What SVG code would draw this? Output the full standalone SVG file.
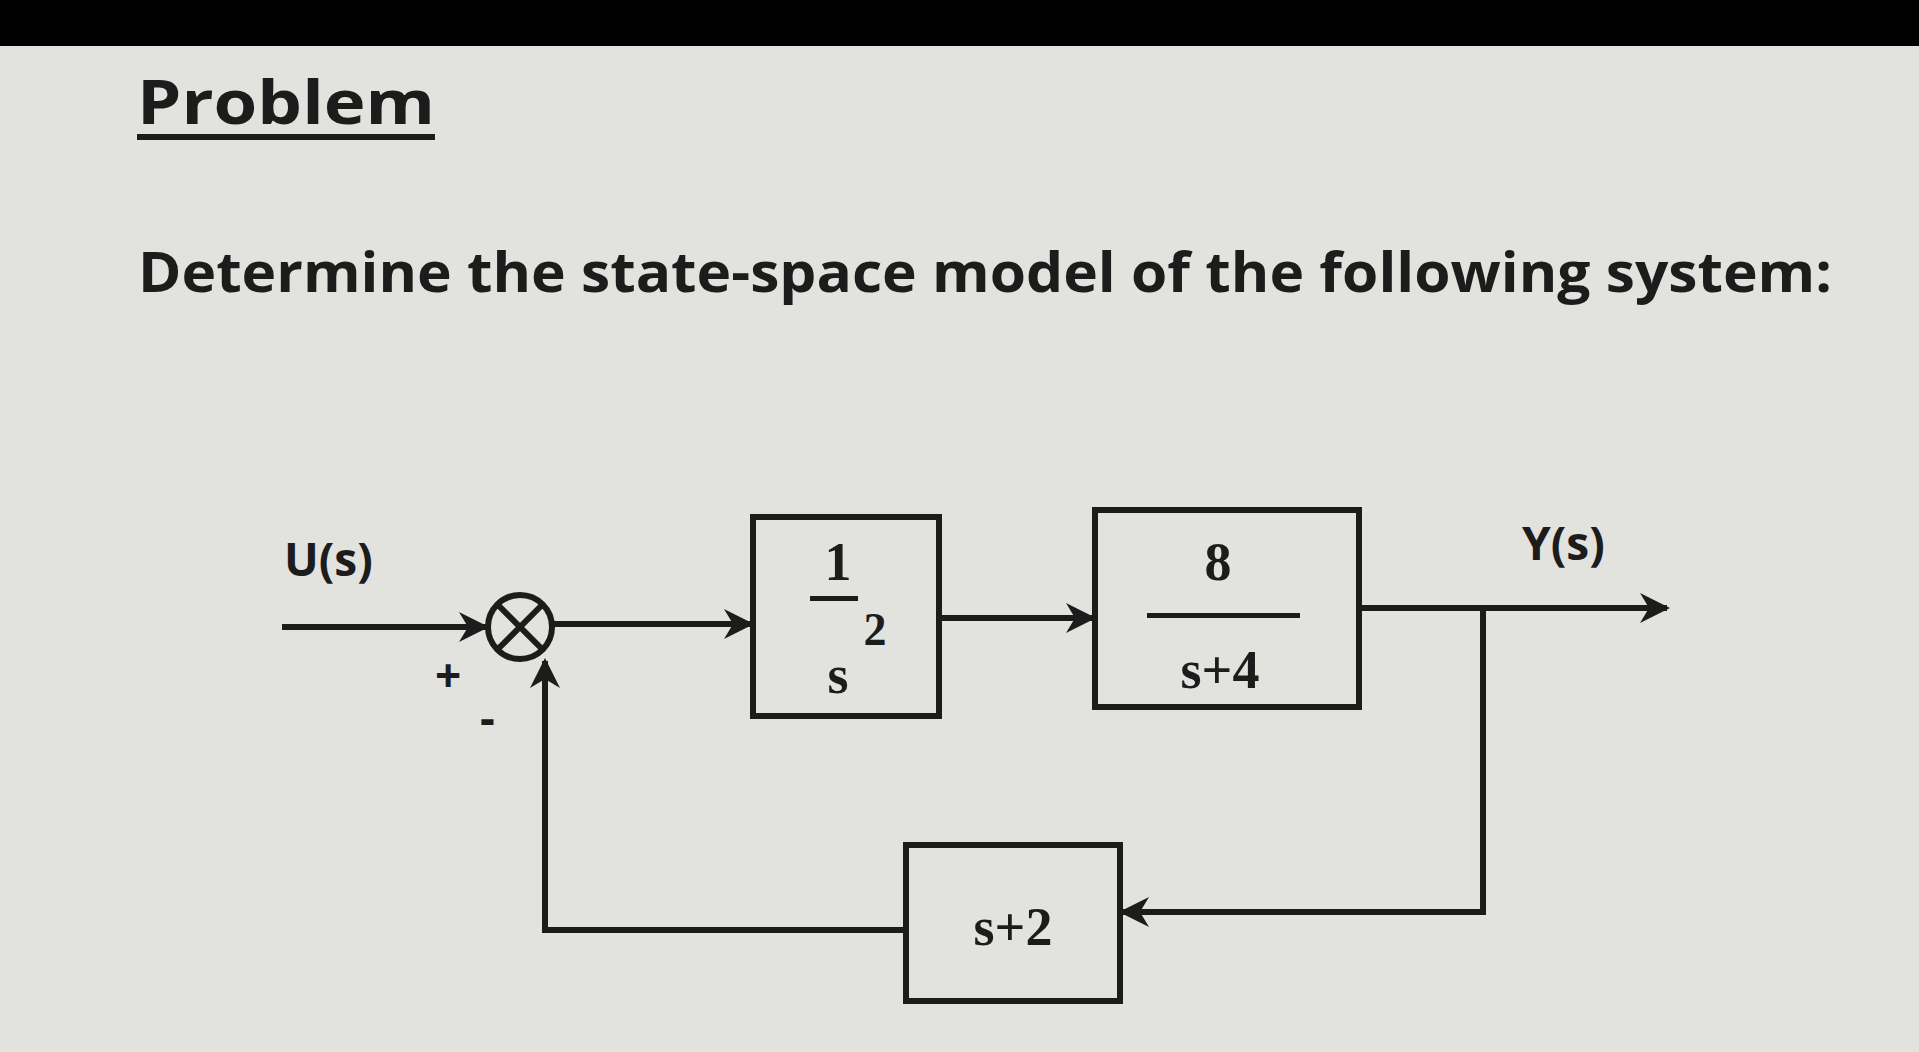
<svg xmlns="http://www.w3.org/2000/svg" width="1919" height="1052" viewBox="0 0 1919 1052">
<style>
.t{font-family:"Open Sans","Liberation Sans",sans-serif;font-weight:bold;fill:#1c1c1c}
.m{font-family:"Liberation Serif",serif;font-weight:bold;fill:#1c1c1c;text-anchor:middle}
.b{fill:none;stroke:#1c1c1c;stroke-width:6}
.w{fill:none;stroke:#1c1c1c;stroke-width:6}
</style>
<defs><marker id="a" viewBox="0 0 10 10" refX="9" refY="5" markerWidth="5" markerHeight="5" orient="auto" markerUnits="strokeWidth"><path d="M0,0 L10,5 L0,10 L3,5 Z" fill="#1c1c1c"/></marker></defs>
<rect width="1919" height="1052" fill="#e2e2de"/>
<rect width="1919" height="46" fill="#000"/>
<text class="t" x="137" y="124" font-size="60" textLength="298" lengthAdjust="spacingAndGlyphs">Problem</text>
<rect x="137" y="134" width="298" height="6" fill="#1c1c1c"/>
<text class="t" x="138" y="292" font-size="56" textLength="1694" lengthAdjust="spacingAndGlyphs">Determine the state-space model of the following system:</text>
<text class="t" x="284" y="576" font-size="46">U(s)</text>
<text class="t" x="1522" y="560" font-size="46">Y(s)</text>
<g id="sum"><circle cx="520" cy="627" r="32" class="w"/><path d="M497,604 L543,650 M543,604 L497,650" class="w"/>
<text class="t" x="435" y="692" font-size="46">+</text><text class="t" x="480" y="735" font-size="46">-</text></g>
<g id="g1"><rect x="753" y="517" width="186" height="199" class="b"/>
<text class="m" x="838" y="580" font-size="54">1</text><rect x="810" y="596" width="48" height="5" fill="#1c1c1c"/>
<text class="m" x="838" y="693" font-size="54">s</text><text class="m" x="875" y="645" font-size="46">2</text></g>
<g id="g2"><rect x="1095" y="510" width="264" height="197" class="b"/>
<text class="m" x="1218" y="580" font-size="54">8</text><rect x="1147" y="613" width="153" height="5" fill="#1c1c1c"/>
<text class="m" x="1220" y="688" font-size="54">s+4</text></g>
<g id="g3"><rect x="906" y="845" width="214" height="156" class="b"/>
<text class="m" x="1013" y="945" font-size="54">s+2</text></g>
<g id="connectors" class="w">
<path d="M282,627 L486,627" marker-end="url(#a)"/>
<path d="M552,624 L751,624" marker-end="url(#a)"/>
<path d="M939,618 L1093,618" marker-end="url(#a)"/>
<path d="M1359,608 L1667,608" marker-end="url(#a)"/>
<path d="M1483,608 L1483,912 L1122,912" marker-end="url(#a)"/>
<path d="M906,930 L545,930 L545,661" marker-end="url(#a)"/>
</g>
</svg>
